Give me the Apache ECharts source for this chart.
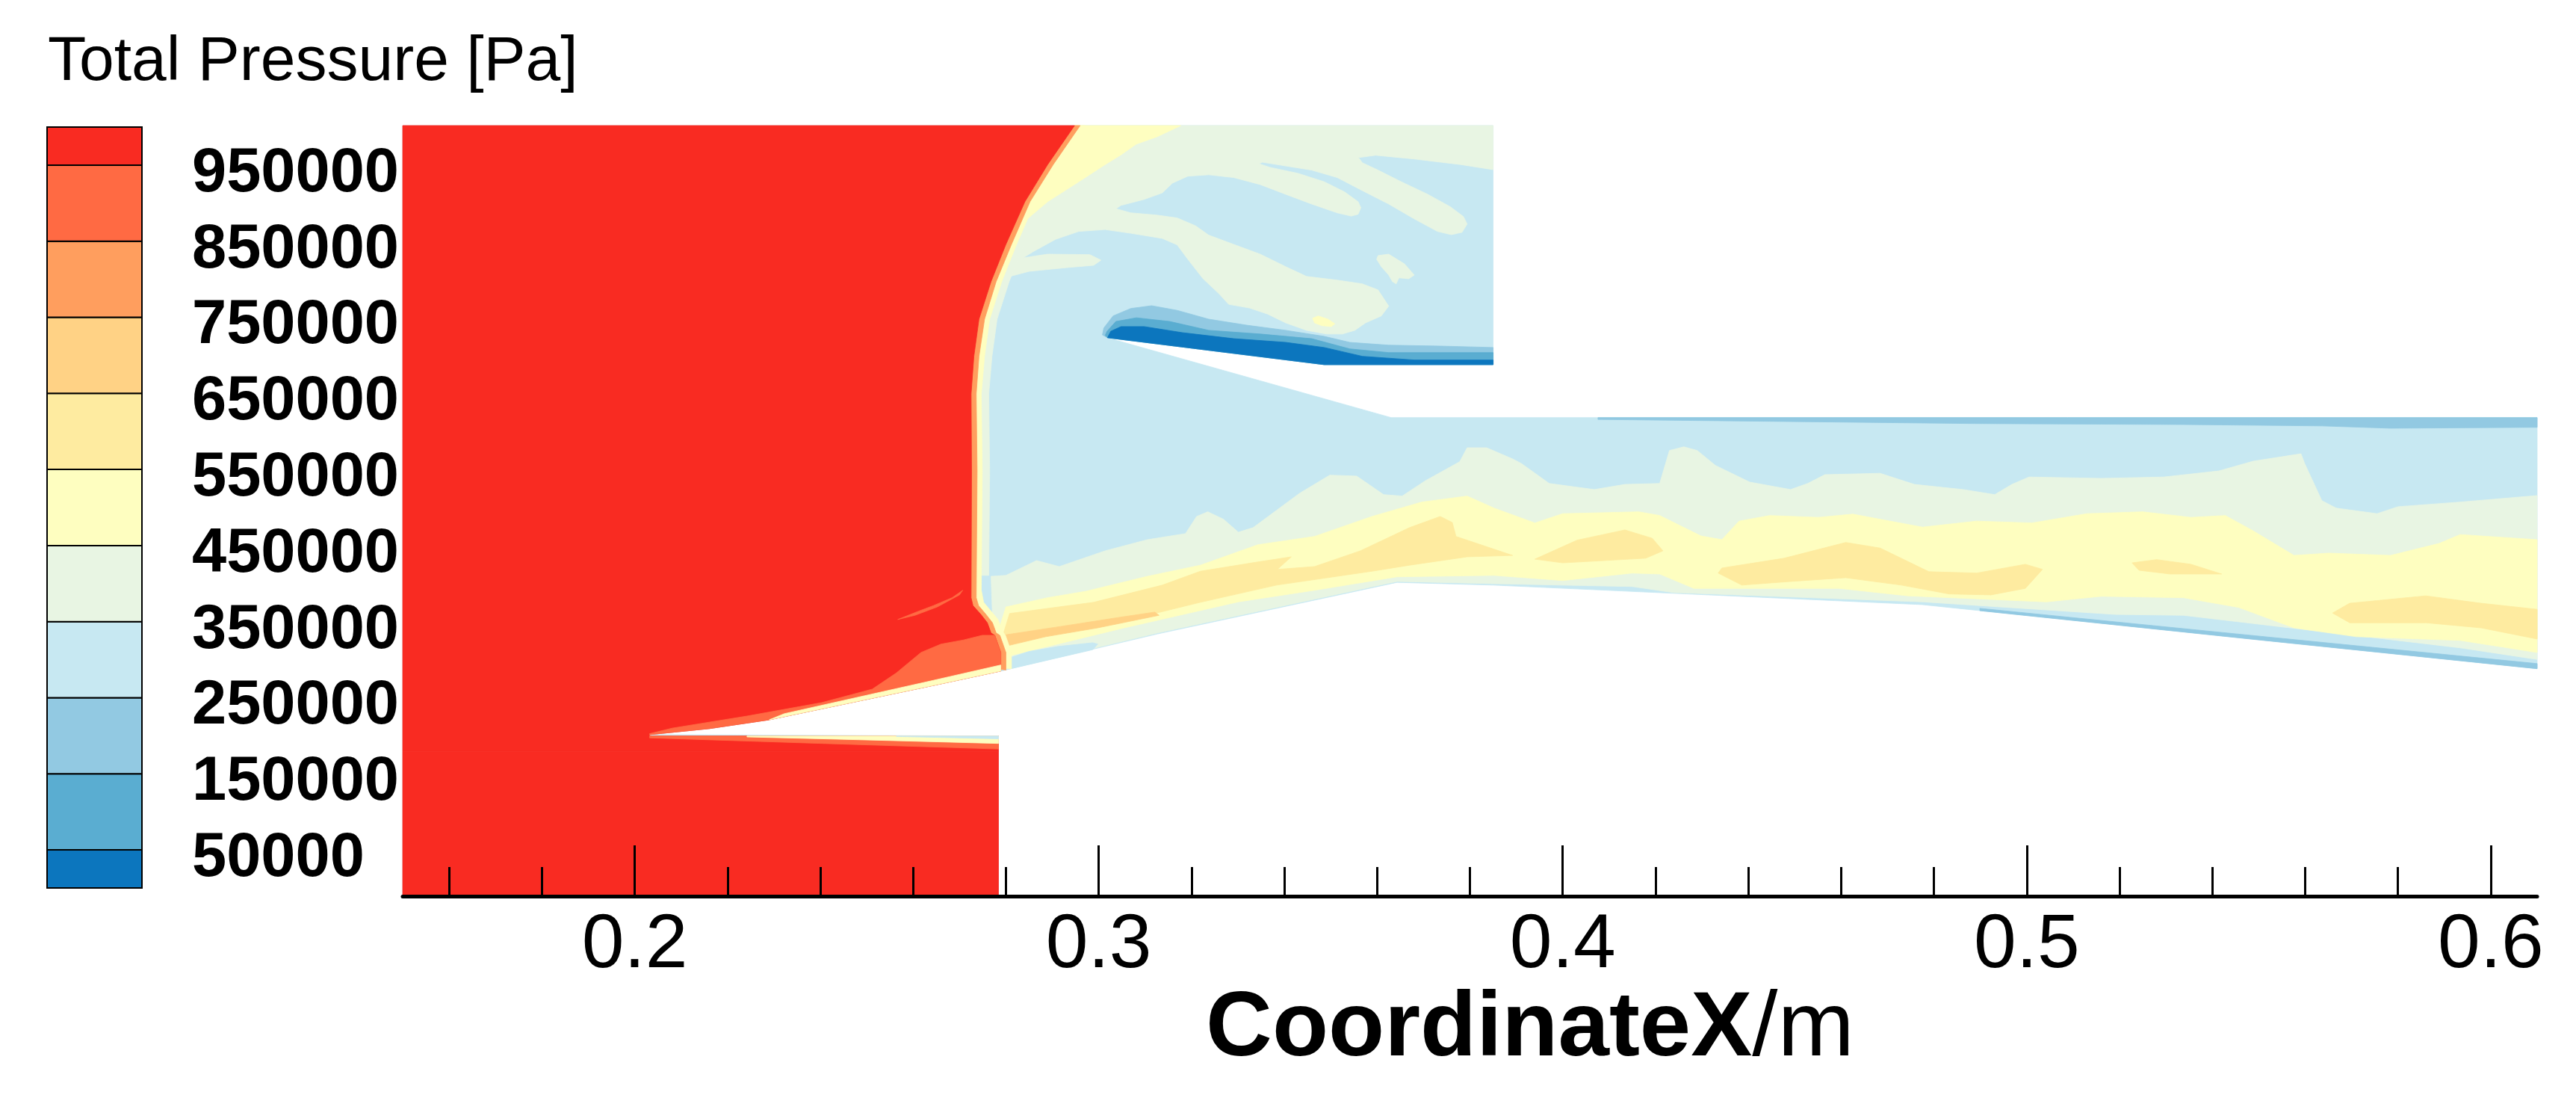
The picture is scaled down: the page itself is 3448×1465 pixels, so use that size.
<!DOCTYPE html>
<html><head><meta charset="utf-8">
<script src="https://cdn.jsdelivr.net/npm/echarts@6.0.0/dist/echarts.min.js"></script>
<style>html,body{margin:0;padding:0;background:#fff}#c{width:3448px;height:1465px}</style>
</head><body><div id="c"></div>
<script>
// ---------------- data ----------------
const xMajorTicks = [0.2, 0.3, 0.4, 0.5, 0.6];
const xMinorTicks = [0.16,0.18,0.22,0.24,0.26,0.28,0.32,0.34,0.36,0.38,0.42,0.44,0.46,0.48,0.52,0.54,0.56,0.58];
const levelBounds = [0,50000,150000,250000,350000,450000,550000,650000,750000,850000,950000,1000000];
const barLabels = [50000,150000,250000,350000,450000,550000,650000,750000,850000,950000];
const levelColors = ['#0C76BE','#5AADD1','#92C9E2','#C7E8F2','#E8F5E3','#FEFEC0','#FEEBA0','#FFD285','#FF9E5E','#FF6A43','#F92B22'];

// contour regions, vertices in metres [x, y]
const flowDomain = [[0.15,0.166],[0.385,0.166],[0.385,0.1145],[0.3486,0.1145],[0.3018,0.1203],[0.3630,0.1031],[0.61,0.1031],[0.61,0.0490],[0.4775,0.0628],[0.3852,0.0670],[0.3643,0.0676],[0.3127,0.0565],[0.2789,0.0485],[0.2644,0.0454],[0.2290,0.0380],[0.2161,0.0361],[0.2032,0.0348],[0.2784,0.0345],[0.2784,0],[0.15,0]];
const greenUpper = [[0.2948,0.166],[0.385,0.166],[0.385,0.1565],[0.378,0.1576],[0.368,0.1588],[0.3597,0.1596],[0.356,0.1591],[0.3568,0.158],[0.3602,0.1564],[0.3652,0.1539],[0.3709,0.1512],[0.3758,0.1485],[0.3786,0.1464],[0.3794,0.1448],[0.3783,0.143],[0.376,0.1425],[0.373,0.1432],[0.368,0.1459],[0.3625,0.1491],[0.3568,0.152],[0.3514,0.1548],[0.3459,0.1564],[0.3403,0.1573],[0.3353,0.1581],[0.3345,0.1578],[0.3369,0.157],[0.343,0.1557],[0.3486,0.1539],[0.353,0.1517],[0.3559,0.1496],[0.3565,0.1483],[0.3559,0.1469],[0.3544,0.1465],[0.3514,0.1472],[0.3459,0.1491],[0.3403,0.1512],[0.3348,0.1533],[0.3291,0.1548],[0.3237,0.1554],[0.3192,0.1551],[0.3159,0.1536],[0.3137,0.1515],[0.3098,0.1501],[0.3048,0.1488],[0.3037,0.1481],[0.3069,0.1472],[0.3126,0.1467],[0.3169,0.1461],[0.3209,0.1444],[0.3237,0.1424],[0.3291,0.1404],[0.3348,0.1383],[0.3403,0.1356],[0.3448,0.1335],[0.3514,0.1327],[0.3568,0.1319],[0.3602,0.1306],[0.3625,0.1271],[0.3609,0.125],[0.3575,0.1235],[0.3552,0.1219],[0.3525,0.1211],[0.3491,0.1211],[0.3448,0.1219],[0.3403,0.1235],[0.3364,0.1254],[0.3325,0.1267],[0.328,0.1275],[0.3259,0.1298],[0.3225,0.133],[0.3192,0.1372],[0.3169,0.1403],[0.3137,0.1417],[0.3069,0.1428],[0.3014,0.1436],[0.2957,0.1432],[0.2907,0.1415],[0.2858,0.1388],[0.2837,0.1375],[0.2789,0.1375],[0.2800,0.1404],[0.2841,0.1496],[0.2890,0.1576]];
const greenTongue = [[0.2797,0.1375],[0.2837,0.1375],[0.289,0.1383],[0.2981,0.1382],[0.3005,0.137],[0.2989,0.1359],[0.2931,0.1354],[0.285,0.1346],[0.2797,0.1332]];
const greenIsland = [[0.3602,0.138],[0.3625,0.1383],[0.3659,0.1362],[0.368,0.1338],[0.3668,0.133],[0.3647,0.1332],[0.3641,0.1319],[0.3633,0.1324],[0.3625,0.1338],[0.3609,0.1356],[0.3599,0.1372]];
const yellowSpot = [[0.3461,0.1245],[0.3473,0.125],[0.3494,0.1243],[0.3509,0.1233],[0.3501,0.1227],[0.3481,0.1229],[0.3465,0.1235]];
const lipLight = [[0.3011,0.1224],[0.3031,0.125],[0.3069,0.1266],[0.3114,0.1272],[0.3169,0.1262],[0.3237,0.1243],[0.3319,0.123],[0.3403,0.1219],[0.3486,0.1206],[0.3541,0.1193],[0.3625,0.1187],[0.3736,0.1185],[0.385,0.1182],[0.385,0.1145],[0.3486,0.1145],[0.3019,0.1203],[0.3008,0.1209]];
const lipMid = [[0.3018,0.1217],[0.3037,0.1238],[0.3081,0.1246],[0.3153,0.1238],[0.3237,0.1219],[0.3348,0.1211],[0.3459,0.1201],[0.3541,0.1179],[0.3625,0.1171],[0.3736,0.1171],[0.385,0.1171],[0.385,0.1145],[0.3486,0.1145],[0.3019,0.1203],[0.3014,0.1208]];
const lipDark = [[0.3026,0.1217],[0.3048,0.1227],[0.3098,0.1227],[0.318,0.1214],[0.3291,0.1201],[0.3403,0.1193],[0.3486,0.1182],[0.3568,0.1163],[0.368,0.1155],[0.385,0.1155],[0.385,0.1145],[0.3486,0.1145],[0.3019,0.1203]];
const greenChannel = [[0.2768,0.0689],[0.28,0.0691],[0.2866,0.0723],[0.2915,0.071],[0.3014,0.0744],[0.3105,0.0768],[0.3187,0.0781],[0.3211,0.0818],[0.3235,0.0828],[0.3269,0.0812],[0.3301,0.0784],[0.3333,0.0794],[0.3433,0.0868],[0.3498,0.0907],[0.3556,0.0905],[0.3614,0.0865],[0.3654,0.0862],[0.3704,0.0895],[0.3778,0.0936],[0.3794,0.0966],[0.3836,0.0966],[0.3892,0.0942],[0.3911,0.0932],[0.3971,0.0889],[0.4068,0.0876],[0.4134,0.0887],[0.4209,0.0889],[0.423,0.096],[0.4261,0.0968],[0.429,0.096],[0.4329,0.0928],[0.4403,0.0892],[0.4491,0.0876],[0.4528,0.0889],[0.4565,0.0908],[0.4684,0.0911],[0.4758,0.0887],[0.4863,0.0876],[0.4931,0.0865],[0.4968,0.0887],[0.5005,0.0903],[0.5161,0.09],[0.5295,0.0903],[0.5414,0.0916],[0.5488,0.0937],[0.5591,0.0953],[0.5599,0.0932],[0.5636,0.0852],[0.5667,0.0836],[0.5755,0.0824],[0.58,0.0839],[0.5934,0.0849],[0.61,0.0863],[0.61,0.051],[0.5934,0.0535],[0.5636,0.057],[0.5338,0.0605],[0.519,0.0607],[0.4775,0.0634],[0.4238,0.0654],[0.415,0.0667],[0.3852,0.0673],[0.3643,0.0678],[0.3127,0.0567],[0.2789,0.0486],[0.2773,0.0546]];
const yellowChannel = [[0.28,0.0623],[0.289,0.0643],[0.2973,0.0657],[0.3105,0.0689],[0.3219,0.0713],[0.3343,0.0757],[0.3465,0.0775],[0.3589,0.0818],[0.3696,0.0849],[0.3794,0.0862],[0.3852,0.0836],[0.394,0.0804],[0.4,0.0824],[0.4164,0.0828],[0.4209,0.082],[0.4298,0.0776],[0.4343,0.0768],[0.438,0.0808],[0.4446,0.082],[0.4551,0.0816],[0.4625,0.0823],[0.4775,0.0795],[0.4892,0.0808],[0.5011,0.0804],[0.513,0.0824],[0.525,0.0828],[0.5354,0.0816],[0.5428,0.082],[0.5488,0.0787],[0.5576,0.0734],[0.5651,0.0739],[0.5784,0.0734],[0.5889,0.076],[0.5934,0.0779],[0.61,0.0768],[0.61,0.0525],[0.5934,0.0551],[0.571,0.0559],[0.5576,0.0578],[0.5457,0.0622],[0.5338,0.0643],[0.5161,0.0646],[0.5042,0.0634],[0.4744,0.0647],[0.4596,0.0663],[0.4283,0.0663],[0.4209,0.0694],[0.415,0.0696],[0.4,0.068],[0.3852,0.0691],[0.3643,0.0688],[0.3465,0.0659],[0.3301,0.0634],[0.3055,0.0578],[0.2792,0.0514],[0.2781,0.0562]];
const lightOrangeBand = [[0.2792,0.0557],[0.2808,0.0609],[0.2989,0.0633],[0.3137,0.067],[0.3219,0.07],[0.3343,0.072],[0.3415,0.0731],[0.3385,0.0704],[0.3465,0.071],[0.3564,0.0744],[0.367,0.0794],[0.3736,0.0818],[0.3762,0.0805],[0.377,0.0775],[0.3892,0.0734],[0.3794,0.0731],[0.367,0.0713],[0.3589,0.07],[0.3383,0.067],[0.3219,0.0633],[0.3121,0.0609],[0.2997,0.0583],[0.289,0.0568],[0.2792,0.0546]];
const patchA = [[0.394,0.0726],[0.4031,0.0767],[0.4134,0.0789],[0.4193,0.0771],[0.4216,0.0744],[0.4179,0.0728],[0.4,0.0718]];
const patchB = [[0.4335,0.0696],[0.4343,0.0707],[0.4477,0.0728],[0.461,0.0762],[0.4684,0.075],[0.4789,0.0699],[0.4892,0.0696],[0.4997,0.0715],[0.5034,0.0704],[0.4997,0.0663],[0.4923,0.0649],[0.4833,0.0651],[0.473,0.067],[0.461,0.0686],[0.4491,0.0678],[0.4386,0.067]];
const patchC = [[0.5227,0.0718],[0.528,0.0725],[0.5354,0.0715],[0.542,0.0694],[0.5309,0.0694],[0.5242,0.0702]];
const patchD = [[0.5659,0.061],[0.5696,0.0631],[0.586,0.0647],[0.5979,0.0631],[0.61,0.0618],[0.61,0.0554],[0.5979,0.0578],[0.586,0.0589],[0.5696,0.0589]];
const orangeStreak = [[0.2773,0.0559],[0.2918,0.0581],[0.3047,0.0601],[0.3121,0.0612],[0.313,0.0605],[0.2998,0.0578],[0.2886,0.0559],[0.2789,0.0536]];
const cyanCorner = [[0.2789,0.049],[0.281,0.0514],[0.2849,0.0527],[0.2913,0.0538],[0.2987,0.0546],[0.2998,0.0543],[0.2987,0.0531],[0.2789,0.0485]];
const topWallLayer = [[0.4076,0.1031],[0.61,0.1031],[0.61,0.101],[0.5784,0.1008],[0.5636,0.1013],[0.5338,0.1016],[0.4892,0.1018],[0.4076,0.1027]];
const bottomWallLayer = [[0.4899,0.062],[0.5462,0.0564],[0.61,0.0501],[0.61,0.049],[0.5462,0.0556],[0.4899,0.0615]];
const shockGreen = [[0.2839,0.1404],[0.2807,0.1324],[0.2781,0.1243],[0.2770,0.1163],[0.2763,0.1082],[0.2765,0.0916],[0.2763,0.0691],[0.2720,0.0691],[0.2720,0.1082],[0.2731,0.1163],[0.2742,0.1243],[0.2768,0.1324],[0.2800,0.1404]];
const shockYellow = [[0.2971,0.166],[0.2913,0.1576],[0.2863,0.1496],[0.2823,0.1404],[0.2791,0.1324],[0.2765,0.1243],[0.2754,0.1163],[0.2747,0.1082],[0.2749,0.0916],[0.2747,0.0659],[0.2752,0.0633],[0.2768,0.0614],[0.2783,0.0596],[0.2791,0.0573],[0.2799,0.0562],[0.2812,0.0525],[0.2812,0.049],[0.2780,0.049],[0.2720,0.0643],[0.2720,0.1082],[0.2731,0.1163],[0.2742,0.1243],[0.2768,0.1324],[0.2800,0.1404],[0.2841,0.1496],[0.2890,0.1576],[0.2948,0.166]];
const yellowWedge = [[0.2948,0.166],[0.3177,0.166],[0.3126,0.1636],[0.3081,0.162],[0.3048,0.1597],[0.3014,0.1576],[0.2957,0.1539],[0.289,0.1496],[0.2858,0.1469],[0.2829,0.1444],[0.2813,0.1424],[0.2800,0.1404],[0.2841,0.1496],[0.2890,0.1576]];
const shockOrange = [[0.2960,0.166],[0.2902,0.1576],[0.2852,0.1496],[0.2812,0.1404],[0.2779,0.1324],[0.2754,0.1243],[0.2742,0.1163],[0.2736,0.1082],[0.2738,0.0916],[0.2736,0.0643],[0.2741,0.0626],[0.2757,0.0607],[0.2771,0.0589],[0.2779,0.0567],[0.2787,0.0562],[0.2800,0.0525],[0.2800,0.0487],[0.2780,0.049],[0.2720,0.0643],[0.2720,0.1082],[0.2731,0.1163],[0.2742,0.1243],[0.2768,0.1324],[0.2800,0.1404],[0.2841,0.1496],[0.2890,0.1576],[0.2948,0.166]];
const redCore = [[0.15,0.166],[0.2948,0.166],[0.2890,0.1576],[0.2841,0.1496],[0.2800,0.1404],[0.2768,0.1324],[0.2742,0.1243],[0.2731,0.1163],[0.2725,0.1082],[0.2726,0.0916],[0.2725,0.0643],[0.2729,0.0626],[0.2746,0.0607],[0.2760,0.0589],[0.2768,0.0567],[0.2776,0.0562],[0.2789,0.0525],[0.2789,0.0485],[0.2644,0.0454],[0.2290,0.0380],[0.2161,0.0361],[0.2032,0.0348],[0.2032,0.0345],[0.2784,0.0345],[0.2784,0.0312],[0.15,0.0312]];
const lowerInlet = [[0.15,0.0312],[0.2784,0.0312],[0.2784,0],[0.15,0]];
const rampLayer = [[0.2032,0.035],[0.2081,0.0362],[0.2242,0.0388],[0.2403,0.0417],[0.2512,0.0446],[0.2564,0.0481],[0.2617,0.0525],[0.266,0.0543],[0.2709,0.0552],[0.2749,0.0562],[0.2776,0.0562],[0.2789,0.0525],[0.2789,0.0485],[0.2644,0.0454],[0.229,0.038],[0.2161,0.0361],[0.2032,0.0348]];
const rampYellow = [[0.2322,0.0393],[0.2644,0.0465],[0.2789,0.0498],[0.2789,0.0485],[0.2644,0.0454],[0.229,0.038]];
const lowerLayerOrange = [[0.2032,0.0345],[0.2784,0.0345],[0.2784,0.0317],[0.2403,0.0329],[0.2032,0.0341]];
const lowerLayerYellow = [[0.2242,0.0345],[0.2784,0.0345],[0.2784,0.0329],[0.2483,0.0337],[0.2242,0.0343]];
const lowerLayerCyan = [[0.2564,0.0345],[0.2784,0.0345],[0.2784,0.0339],[0.2564,0.0344]];
const redSliver = [[0.2567,0.0596],[0.2612,0.0614],[0.2644,0.0626],[0.2684,0.0643],[0.2707,0.0659],[0.27,0.0649],[0.2652,0.0623],[0.2604,0.0605]];

// [region, level index] in drawing order
const layers = [
  [flowDomain,3],[greenUpper,4],[greenTongue,4],[greenIsland,4],[yellowSpot,5],
  [lipLight,2],[lipMid,1],[lipDark,0],
  [greenChannel,4],[yellowChannel,5],[lightOrangeBand,6],[patchA,6],[patchB,6],[patchC,6],[patchD,6],[orangeStreak,7],[cyanCorner,3],
  [topWallLayer,2],[bottomWallLayer,2],
  [shockGreen,4],[shockYellow,5],[yellowWedge,5],[shockOrange,8],
  [redCore,10],[lowerInlet,10],[rampLayer,9],[rampYellow,5],
  [lowerLayerOrange,9],[lowerLayerYellow,5],[lowerLayerCyan,3],[redSliver,9]
];

// ---------------- chart ----------------
const FONT = "'Liberation Sans', Arial, Helvetica, sans-serif";
const chart = echarts.init(document.getElementById('c'), null, {renderer:'canvas'});

const bands = [];
for (let i = 0; i < levelColors.length; i++) bands.push([0.5, (levelBounds[i]+levelBounds[i+1])/2, i]);

chart.setOption({
  animation: false,
  backgroundColor: '#ffffff',
  grid: [
    {left: 539, right: 52, top: 168, bottom: 266, containLabel: false},
    {left: 63, top: 170, width: 127, height: 1018, containLabel: false}
  ],
  xAxis: [
    {type:'value', gridIndex:0, min:0.15, max:0.61, position:'bottom', offset:2, z:20,
     axisLine:{show:true, lineStyle:{color:'#000', width:5}},
     axisTick:{show:true, inside:true, length:68, lineStyle:{color:'#000', width:3}, customValues: xMajorTicks},
     axisLabel:{show:true, customValues: xMajorTicks, fontFamily:FONT, fontSize:102, lineHeight:102, color:'#000', margin:14,
       showMinLabel:true, showMaxLabel:true, formatter: v => String(Math.round(v*10)/10)},
     splitLine:{show:false}},
    {type:'value', gridIndex:0, min:0.15, max:0.61, position:'bottom', offset:2, z:20,
     axisLine:{show:false},
     axisTick:{show:true, inside:true, length:41, lineStyle:{color:'#000', width:3}, customValues: xMinorTicks},
     axisLabel:{show:false}, splitLine:{show:false}},
    {type:'value', gridIndex:1, min:0, max:1, show:false}
  ],
  yAxis: [
    {type:'value', gridIndex:0, min:0, max:0.166, show:false},
    {type:'value', gridIndex:1, min:0, max:1000000, position:'right', z:20,
     axisLine:{show:false}, axisTick:{show:false}, splitLine:{show:false},
     axisLabel:{show:true, customValues: barLabels, align:'left', verticalAlign:'top', margin:67, fontFamily:FONT, fontWeight:'bold',
       fontSize:83, lineHeight:24, color:'#000', showMinLabel:true, showMaxLabel:true,
       hideOverlap:false, formatter: v => String(v)}}
  ],
  graphic: [
    {type:'text', x:64, y:84, style:{text:'Total Pressure [Pa]', fontFamily:FONT, fontSize:84, fill:'#000', align:'left', verticalAlign:'middle'}},
    {type:'text', x:2048, y:1378, style:{text:'{b|CoordinateX}{r|/m}', align:'center', verticalAlign:'middle', fill:'#000',
      rich:{b:{fontFamily:FONT, fontSize:123, fontWeight:'bold', fill:'#000'}, r:{fontFamily:FONT, fontSize:123, fontWeight:'normal', fill:'#000'}}}}
  ],
  series: [
    {type:'custom', xAxisIndex:0, yAxisIndex:0, silent:true, clip:false, z:2,
     data: layers.map((l, i) => [0.3, 0.1, i]),
     renderItem: function (params, api) {
       const L = layers[params.dataIndex];
       const pts = L[0].map(p => api.coord(p));
       const col = levelColors[L[1]];
       return {type:'polygon', shape:{points:pts}, style:{fill:col, stroke:col, lineWidth:0.8}};
     }},
    {type:'custom', xAxisIndex:2, yAxisIndex:1, silent:true, clip:false, z:2,
     data: bands,
     renderItem: function (params, api) {
       const i = params.dataIndex;
       const p0 = api.coord([0, levelBounds[i+1]]);
       const p1 = api.coord([1, levelBounds[i]]);
       return {type:'rect', shape:{x:p0[0], y:p0[1], width:p1[0]-p0[0], height:p1[1]-p0[1]},
         style:{fill:levelColors[i], stroke:'#000', lineWidth:2}};
     }}
  ]
});
</script></body></html>
